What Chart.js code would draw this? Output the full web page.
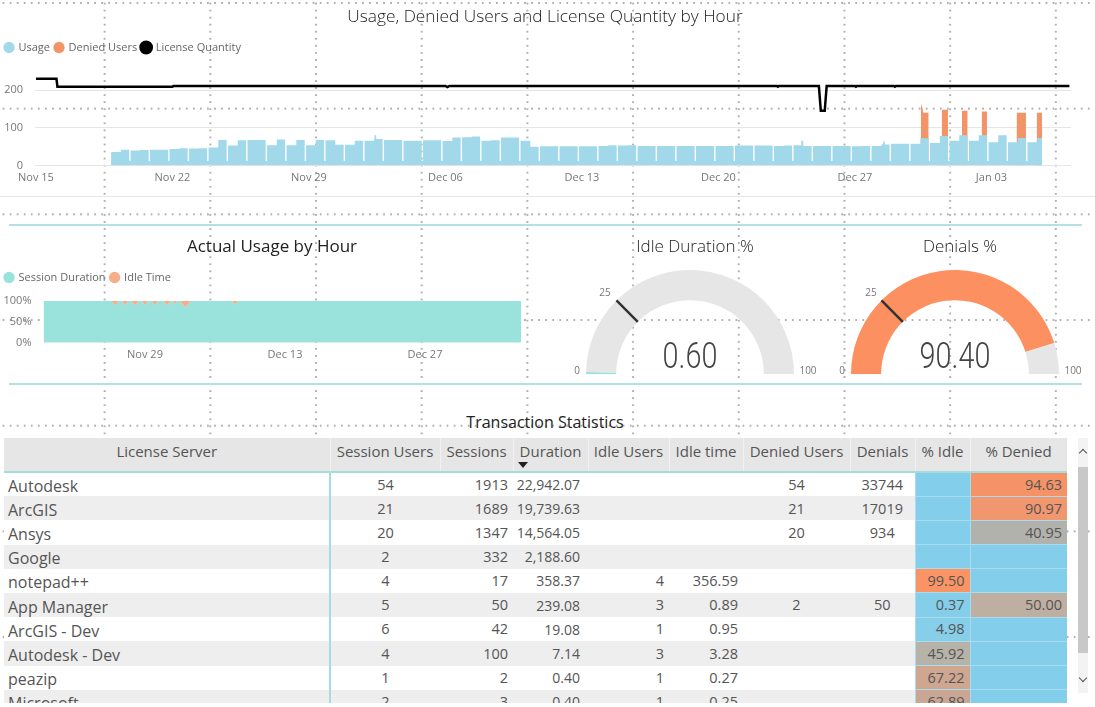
<!DOCTYPE html>
<html>
<head>
<meta charset="utf-8">
<script src="https://cdn.jsdelivr.net/npm/chart.js@4"></script>
<style>
  html, body { margin: 0; padding: 0; background: #fff; overflow: hidden; }
  body { width: 1095px; height: 707px; position: relative; font-family: "Open Sans", sans-serif; color: #666; }
  #dots { position: absolute; left: 0; top: 0; width: 1095px; height: 707px;
    background-image:
      radial-gradient(circle at 50% 50%, #777 0.5px, transparent 0.9px),
      radial-gradient(circle at 50% 50%, #777 0.5px, transparent 0.9px);
    background-size: 105.7px 7.05px, 7.05px 105.7px;
    background-position: 51.8px 0, 0 -49.9px; }
  canvas { position: absolute; }
  .rule { position: absolute; height: 2px; left: 9px; width: 1073px; background: #b5e0e4; }
  .hair { position: absolute; height: 1px; left: 0; width: 1095px; top: 196px; background: #e6e6e6; }
  .title { position: absolute; transform: translateX(-50%); white-space: nowrap; color: #222; font-weight: 300; line-height: 1; }
  .glabel { position: absolute; transform: translateX(-50%); font-size: 10px; color: #777; line-height: 1; }
  .gvalue { position: absolute; transform: translateX(-50%) scaleX(0.8); font-size: 36px; font-family: Roboto, sans-serif; font-weight: 300; color: #444; line-height: 1; }
  #tableBox { position: absolute; left: 4px; top: 438px; width: 1063px; height: 265px; overflow: hidden; background: #fff; }
  table { border-collapse: collapse; table-layout: fixed; width: 1063px; font-size: 14.5px; }
  th { background: #e6e6e6; font-weight: 400; font-size: 15px; height: 34px; padding: 0 0 8px; border-right: 1px solid #f2f2f2; border-bottom: 2px solid #a5dcdc; box-sizing: border-box; color: #555; position: relative; vertical-align: middle; white-space: nowrap; overflow: hidden; }
  td { height: 24.2px; padding: 1px 5px 0 0; box-sizing: border-box; text-align: right; color: #555; white-space: nowrap; line-height: 1; }
  tr:nth-child(odd) td { background: #eee; }
  td.name { text-align: left; padding: 3px 0 0 4px; font-size: 16px; border-right: 2px solid #a5dcdc; }
  td.mid { text-align: center; padding: 1px 0 0; }
  td.dur { padding-right: 8px; font-size: 14px; }
  td.heat { border-bottom: 1px solid #a9dcf0; border-left: 1px solid #a9dcf0; }
  #sortMark { position: absolute; left: 518px; top: 462px; width: 0; height: 0; border-left: 5px solid transparent; border-right: 5px solid transparent; border-top: 6px solid #222; }
  #track { position: absolute; left: 1078px; top: 438px; width: 10px; height: 255px; background: #f3f3f3; }
  #thumb { position: absolute; left: 1078px; top: 467px; width: 10px; height: 186px; background: #c8c8c8; }
  .arrow { position: absolute; left: 1080px; width: 5px; height: 5px; border-left: 1px solid #555; border-top: 1px solid #555; }
</style>
</head>
<body>
<div id="dots"></div>
<div class="hair"></div>
<div class="rule" style="top:224px"></div>
<div class="rule" style="top:383px"></div>

<canvas id="usageChart" width="1071" height="196" style="left:0;top:0"></canvas>
<div class="title" style="left:545px;top:7px;font-size:17.3px">Usage, Denied Users and License Quantity by Hour</div>

<canvas id="actualChart" width="544" height="157" style="left:0;top:226px"></canvas>
<div class="title" style="left:272px;top:237px;font-size:17px;font-weight:400">Actual Usage by Hour</div>

<canvas id="idleGauge" width="208" height="104" style="left:585.5px;top:269.5px"></canvas>
<div class="title" style="left:695px;top:237px;font-size:17px">Idle Duration %</div>
<div class="gvalue" style="left:689.5px;top:338px">0.60</div>
<div class="glabel" style="left:577px;top:365px">0</div>
<div class="glabel" style="left:605px;top:287px">25</div>
<div class="glabel" style="left:808px;top:365px">100</div>

<canvas id="denialGauge" width="208" height="104" style="left:851px;top:269.5px"></canvas>
<div class="title" style="left:960px;top:237px;font-size:17px">Denials %</div>
<div class="gvalue" style="left:955px;top:338px">90.40</div>
<div class="glabel" style="left:842px;top:365px">0</div>
<div class="glabel" style="left:871px;top:287px">25</div>
<div class="glabel" style="left:1073px;top:365px">100</div>

<div class="title" style="left:545px;top:414px;font-size:16px;font-weight:400">Transaction Statistics</div>
<div id="tableBox"></div>
<div id="sortMark"></div>
<div id="track"></div>
<div id="thumb"></div>
<div class="arrow" style="top:450px;transform:rotate(45deg)"></div>
<div class="arrow" style="top:675px;transform:rotate(225deg)"></div>

<script>
// week tick labels, one per 7 days from Nov 15
const weekLabels = ['Nov 15', 'Nov 22', 'Nov 29', 'Dec 06', 'Dec 13', 'Dec 20', 'Dec 27', 'Jan 03'];

// usage per working day (first part / last part of each day)
const usageEarly = [36, 40, 42, 44, 45, 48, 53, 68, 54, 54, 54, 67, 55, 66, 68, 66,
  67, 65, 75, 66, 74, 66, 51, 51, 51, 52, 53, 52, 52, 52, 52, 52,
  53, 53, 52, 54, 52, 52, 51, 52, 58, 58, 60, 66, 66, 62, 62, 62];
const usageLate = [42, 41, 42, 46, 46, 68, 67, 68, 69, 68, 68, 55, 66, 70, 68, 66,
  67, 74, 77, 67, 74, 50, 51, 51, 51, 54, 54, 52, 52, 52, 52, 52,
  53, 53, 53, 52, 52, 52, 52, 56, 58, 72, 78, 80, 80, 80, 73, 73];
const usageGap = 12;
const usageFirstDay = 3.85;
const usageLastDay = 51.6;
const spikeDays = [17.35, 17.35, 17.45, 17.45, 39.25, 39.25, 39.35, 39.35, 43.45, 43.45, 43.55, 43.55];
const spikeVals = [0, 80, 80, 0, 0, 66, 66, 0, 0, 63, 63, 0];

const deniedDays = [45.38, 45.38, 45.47, 45.5, 45.77, 45.77, 46.46, 46.46, 46.77, 46.77,
  47.49, 47.49, 47.77, 47.77, 48.51, 48.51, 48.77, 48.77,
  50.3, 50.3, 50.77, 50.77, 51.33, 51.33, 51.6, 51.6];
const deniedVals = [0, 166, 150, 140, 140, 0, 0, 148, 148, 0,
  0, 145, 145, 0, 0, 143, 143, 0,
  0, 140, 140, 0, 0, 140, 140, 0];

const licenseDays = [0, 1.05, 1.1, 7, 7.05, 21, 21.1, 21.2, 38, 38.05, 38.1, 40.15, 40.25, 40.45, 40.55, 42, 42.05, 42.1, 44, 44.05, 44.1, 53];
const licenseVals = [230, 230, 209, 209, 211, 211, 208, 211, 211, 209, 211, 211, 145, 145, 211, 211, 209, 211, 211, 209, 211, 211];

// actual usage, share of the hour
const sessionDays = [3.85, 10.6, 11, 11.4, 11.7, 12, 12.3, 12.6, 13, 13.4, 13.7, 14, 14.3, 14.7, 15, 15.3,
  15.8, 16.2, 16.6, 16.8, 17, 17.2, 17.5, 18, 18.6, 22.7, 23, 23.3, 51.6];
const sessionVals = [100, 100, 90, 100, 100, 90, 100, 100, 90, 100, 100, 90, 100, 100, 90, 100,
  100, 90, 100, 100, 92, 100, 100, 85, 100, 100, 92, 100, 100];

const idleValue = 0.6;
const denialValue = 90.4;
const gaugeMax = 100;
const gaugeTarget = 25;

// table columns
const headers = ['License Server', 'Session Users', 'Sessions', 'Duration', 'Idle Users', 'Idle time', 'Denied Users', 'Denials', '% Idle', '% Denied'];
const colWidths = [326, 110, 73, 75, 81, 74, 107, 65, 55, 97];
const servers = ['Autodesk', 'ArcGIS', 'Ansys', 'Google', 'notepad++', 'App Manager', 'ArcGIS - Dev', 'Autodesk - Dev', 'peazip', 'Microsoft'];
const sessionUsers = ['54', '21', '20', '2', '4', '5', '6', '4', '1', '2'];
const sessions = ['1913', '1689', '1347', '332', '17', '50', '42', '100', '2', '3'];
const durations = ['22,942.07', '19,739.63', '14,564.05', '2,188.60', '358.37', '239.08', '19.08', '7.14', '0.40', '0.40'];
const idleUsers = ['', '', '', '', '4', '3', '1', '3', '1', '1'];
const idleTimes = ['', '', '', '', '356.59', '0.89', '0.95', '3.28', '0.27', '0.25'];
const deniedUsers = ['54', '21', '20', '', '', '2', '', '', '', ''];
const denials = ['33744', '17019', '934', '', '', '50', '', '', '', ''];
const pctIdle = ['', '', '', '', '99.50', '0.37', '4.98', '45.92', '67.22', '62.89'];
const pctDenied = ['94.63', '90.97', '40.95', '', '', '50.00', '', '', '', ''];
const idleColors = ['#83cfeb', '#83cfeb', '#83cfeb', '#83cfeb', '#fa9465', '#84ceea', '#87cee8', '#b8b3a8', '#cfa690', '#caa794'];
const deniedColors = ['#f59366', '#f0976f', '#b1b2ab', '#83cfeb', '#83cfeb', '#bfafa2', '#83cfeb', '#83cfeb', '#83cfeb', '#83cfeb'];

const FONT = '"Open Sans", sans-serif';
const usageColor = '#a1d9eb';
const deniedColor = '#f39468';
const tealColor = '#99e3dc';
const idleColor = '#f6ad8a';

function weekTick(value) {
  return weekLabels[value / 7];
}

function toPoints(xs, ys) {
  return xs.map((x, i) => ({ x: x, y: ys[i] }));
}

// each day is an early level, a late level and a thin gap before the next day
function usagePoints() {
  const pts = [];
  usageEarly.forEach((early, i) => {
    const start = usageFirstDay + i;
    pts.push({ x: start, y: early }, { x: start + 0.5, y: usageLate[i] });
    if (i < usageEarly.length - 1) {
      pts.push({ x: start + 0.93, y: usageGap });
    }
  });
  pts.push({ x: usageLastDay, y: 0 });
  return pts;
}

function legendOptions() {
  return {
    position: 'top',
    align: 'start',
    labels: {
      usePointStyle: true,
      boxWidth: 8,
      boxHeight: 8,
      padding: 5,
      color: '#666',
      font: { family: FONT, size: 11 },
      filter: item => item.text !== '',
      sort: (a, b) => a.datasetIndex - b.datasetIndex
    }
  };
}

function areaSet(label, points, color, order, fill) {
  return {
    label: label,
    data: points,
    backgroundColor: color,
    borderColor: color,
    borderWidth: 0,
    pointRadius: 0,
    tension: 0,
    fill: fill === undefined ? 'origin' : fill,
    order: order
  };
}

new Chart(document.getElementById('usageChart'), {
  type: 'line',
  data: {
    datasets: [
      Object.assign(areaSet('Usage', usagePoints(), usageColor, 2), { stepped: true }),
      areaSet('Denied Users', toPoints(deniedDays, deniedVals), deniedColor, 4),
      {
        label: 'License Quantity',
        data: toPoints(licenseDays, licenseVals),
        borderColor: '#000',
        backgroundColor: '#000',
        borderWidth: 2.5,
        pointRadius: 0,
        tension: 0,
        fill: false,
        order: 1
      },
      areaSet('', toPoints(spikeDays, spikeVals), usageColor, 3)
    ]
  },
  options: {
    responsive: false,
    animation: false,
    layout: { padding: { top: 37 } },
    plugins: { legend: legendOptions(), tooltip: { enabled: false } },
    scales: {
      x: {
        type: 'linear',
        min: -0.05,
        max: 53.08,
        grid: { display: false, drawTicks: false },
        border: { display: false },
        afterFit: s => { s.height = 30.5; },
        ticks: {
          stepSize: 7,
          includeBounds: false,
          autoSkip: false,
          maxRotation: 0,
          padding: 6,
          color: '#777',
          font: { family: FONT, size: 11 },
          callback: weekTick
        }
      },
      y: {
        min: 0,
        max: 272,
        grid: { color: '#e6e6e6', drawTicks: false },
        border: { display: false },
        afterFit: s => { s.width = 35; },
        ticks: {
          stepSize: 100,
          includeBounds: false,
          padding: 12,
          color: '#777',
          font: { family: FONT, size: 11 }
        }
      }
    }
  }
});

new Chart(document.getElementById('actualChart'), {
  type: 'line',
  data: {
    datasets: [
      areaSet('Session Duration', toPoints(sessionDays, sessionVals), tealColor, 2),
      areaSet('Idle Time', toPoints(sessionDays, sessionVals), idleColor, 1, { value: 100 })
    ]
  },
  options: {
    responsive: false,
    animation: false,
    layout: { padding: { top: 41 } },
    plugins: { legend: legendOptions(), tooltip: { enabled: false } },
    scales: {
      x: {
        type: 'linear',
        min: 3.85,
        max: 53.9,
        grid: { display: false, drawTicks: false },
        border: { display: false },
        afterFit: s => { s.height = 40.3; },
        ticks: {
          stepSize: 14,
          includeBounds: false,
          autoSkip: false,
          maxRotation: 0,
          padding: 6,
          color: '#777',
          font: { family: FONT, size: 11 },
          callback: weekTick
        }
      },
      y: {
        min: 0,
        max: 119.4,
        grid: { display: false, drawTicks: false },
        border: { display: false },
        afterFit: s => { s.width = 43.5; },
        ticks: {
          stepSize: 50,
          includeBounds: false,
          padding: 12,
          color: '#777',
          font: { family: FONT, size: 11 },
          callback: v => v + '%'
        }
      }
    }
  }
});

// black target mark across the gauge ring
const targetMark = {
  id: 'targetMark',
  afterDatasetsDraw(chart) {
    const arc = chart.getDatasetMeta(0).data[0];
    const angle = Math.PI + Math.PI * gaugeTarget / gaugeMax;
    const ctx = chart.ctx;
    ctx.save();
    ctx.strokeStyle = '#333';
    ctx.lineWidth = 2.5;
    ctx.beginPath();
    ctx.moveTo(arc.x + Math.cos(angle) * arc.innerRadius, arc.y + Math.sin(angle) * arc.innerRadius);
    ctx.lineTo(arc.x + Math.cos(angle) * arc.outerRadius, arc.y + Math.sin(angle) * arc.outerRadius);
    ctx.stroke();
    ctx.restore();
  }
};

function gauge(id, value, color) {
  new Chart(document.getElementById(id), {
    type: 'doughnut',
    data: {
      datasets: [{
        data: [value, gaugeMax - value],
        backgroundColor: [color, '#e6e6e6'],
        borderWidth: 0
      }]
    },
    options: {
      responsive: false,
      animation: false,
      rotation: -90,
      circumference: 180,
      cutout: '71%',
      plugins: { legend: { display: false }, tooltip: { enabled: false } }
    },
    plugins: [targetMark]
  });
}

gauge('idleGauge', idleValue, tealColor);
gauge('denialGauge', denialValue, '#fd9060');

let html = '<table><colgroup>' + colWidths.map(w => '<col style="width:' + w + 'px">').join('') + '</colgroup><tr>';
html += headers.map(h => '<th>' + h + '</th>').join('') + '</tr>';
servers.forEach((name, i) => {
  html += '<tr><td class="name">' + name + '</td>'
    + '<td class="mid">' + sessionUsers[i] + '</td>'
    + '<td>' + sessions[i] + '</td>'
    + '<td class="dur">' + durations[i] + '</td>'
    + '<td>' + idleUsers[i] + '</td>'
    + '<td>' + idleTimes[i] + '</td>'
    + '<td class="mid">' + deniedUsers[i] + '</td>'
    + '<td class="mid">' + denials[i] + '</td>'
    + '<td class="heat" style="background:' + idleColors[i] + '">' + pctIdle[i] + '</td>'
    + '<td class="heat" style="background:' + deniedColors[i] + '">' + pctDenied[i] + '</td></tr>';
});
document.getElementById('tableBox').innerHTML = html + '</table>';
</script>
</body>
</html>
